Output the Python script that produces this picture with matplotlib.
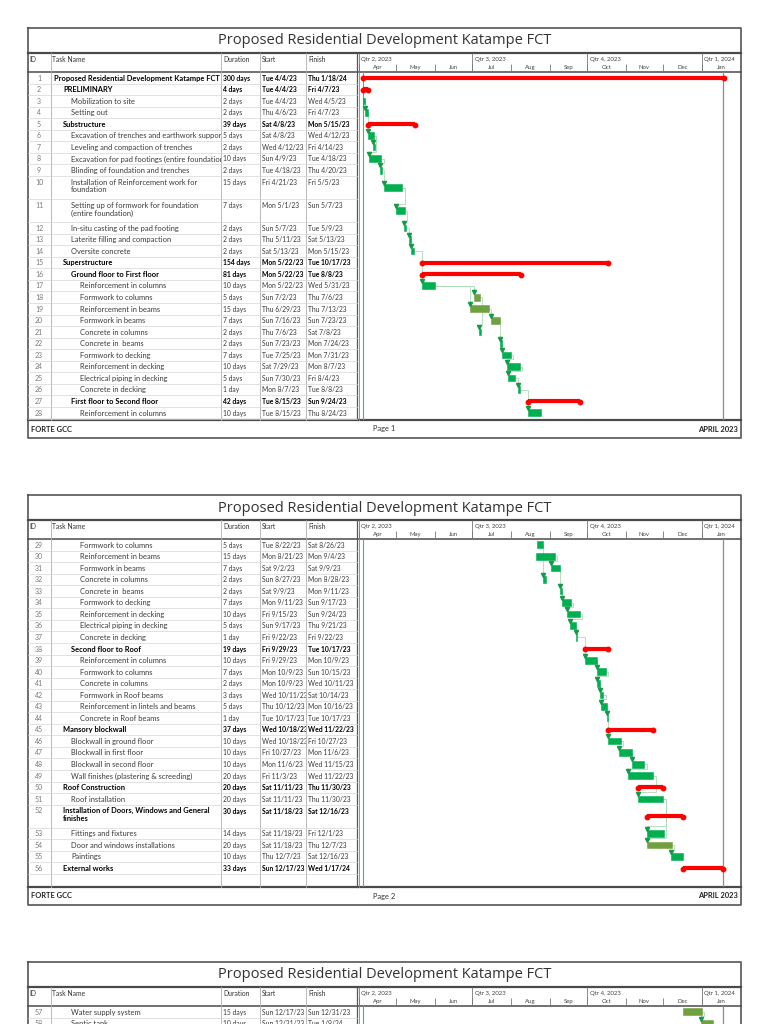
import datetime as dt
import matplotlib
matplotlib.use("Agg")
import matplotlib.pyplot as plt
import matplotlib.dates as mdates
from matplotlib.transforms import Bbox, TransformedBbox

plt.rcParams['font.family'] = ['Lato', 'DejaVu Sans']

title = "Proposed Residential Development Katampe FCT"

task_names = [
    "Proposed Residential Development Katampe FCT",
    "PRELIMINARY",
    "Mobilization to site",
    "Setting out",
    "Substructure",
    "Excavation of trenches and earthwork support",
    "Leveling and compaction of trenches",
    "Excavation for pad footings (entire foundation)",
    "Blinding of foundation and trenches",
    "Installation of Reinforcement work for\nfoundation",
    "Setting up of formwork for foundation\n(entire foundation)",
    "In-situ casting of the pad footing",
    "Laterite filling and compaction",
    "Oversite concrete",
    "Superstructure",
    "Ground floor to First floor",
    "Reinforcement in columns",
    "Formwork to columns",
    "Reinforcement in beams",
    "Formwork in beams",
    "Concrete in columns",
    "Concrete in  beams",
    "Formwork to decking",
    "Reinforcement in decking",
    "Electrical piping in decking",
    "Concrete in decking",
    "First floor to Second floor",
    "Reinforcement in columns",
    "Formwork to columns",
    "Reinforcement in beams",
    "Formwork in beams",
    "Concrete in columns",
    "Concrete in  beams",
    "Formwork to decking",
    "Reinforcement in decking",
    "Electrical piping in decking",
    "Concrete in decking",
    "Second floor to Roof",
    "Reinforcement in columns",
    "Formwork to columns",
    "Concrete in columns",
    "Formwork in Roof beams",
    "Reinforcement in lintels and beams",
    "Concrete in Roof beams",
    "Mansory blockwall",
    "Blockwall in ground floor",
    "Blockwall in first floor",
    "Blockwall in second floor",
    "Wall finishes (plastering & screeding)",
    "Roof Construction",
    "Roof installation",
    "Installation of Doors, Windows and General\nfinishes",
    "Fittings and fixtures",
    "Door and windows installations",
    "Paintings",
    "External works",
    "Water supply system",
    "Septic tank",
]

levels = [0, 1, 2, 2, 1, 2, 2, 2, 2, 2, 2, 2, 2, 2, 1, 2, 3, 3, 3, 3, 3, 3, 3, 3, 3, 3, 2, 3,
          3, 3, 3, 3, 3, 3, 3, 3, 3, 2, 3, 3, 3, 3, 3, 3, 1, 2, 2, 2, 2, 1, 2, 1, 2, 2, 2, 1, 2, 2]

durations = ["300 days", "4 days", "2 days", "2 days", "39 days", "5 days", "2 days", "10 days",
             "2 days", "15 days", "7 days", "2 days", "2 days", "2 days", "154 days", "81 days",
             "10 days", "5 days", "15 days", "7 days", "2 days", "2 days", "7 days", "10 days",
             "5 days", "1 day", "42 days", "10 days",
             "5 days", "15 days", "7 days", "2 days", "2 days", "7 days", "10 days", "5 days",
             "1 day", "19 days", "10 days", "7 days", "2 days", "3 days", "5 days", "1 day",
             "37 days", "10 days", "10 days", "10 days", "20 days", "20 days", "20 days",
             "30 days", "14 days", "20 days", "10 days", "33 days", "15 days", "10 days"]

starts = ["Tue 4/4/23", "Tue 4/4/23", "Tue 4/4/23", "Thu 4/6/23", "Sat 4/8/23", "Sat 4/8/23",
          "Wed 4/12/23", "Sun 4/9/23", "Tue 4/18/23", "Fri 4/21/23", "Mon 5/1/23", "Sun 5/7/23",
          "Thu 5/11/23", "Sat 5/13/23", "Mon 5/22/23", "Mon 5/22/23", "Mon 5/22/23", "Sun 7/2/23",
          "Thu 6/29/23", "Sun 7/16/23", "Thu 7/6/23", "Sun 7/23/23", "Tue 7/25/23", "Sat 7/29/23",
          "Sun 7/30/23", "Mon 8/7/23", "Tue 8/15/23", "Tue 8/15/23",
          "Tue 8/22/23", "Mon 8/21/23", "Sat 9/2/23", "Sun 8/27/23", "Sat 9/9/23", "Mon 9/11/23",
          "Fri 9/15/23", "Sun 9/17/23", "Fri 9/22/23", "Fri 9/29/23", "Fri 9/29/23", "Mon 10/9/23",
          "Mon 10/9/23", "Wed 10/11/23", "Thu 10/12/23", "Tue 10/17/23", "Wed 10/18/23",
          "Wed 10/18/23", "Fri 10/27/23", "Mon 11/6/23", "Fri 11/3/23", "Sat 11/11/23",
          "Sat 11/11/23", "Sat 11/18/23", "Sat 11/18/23", "Sat 11/18/23", "Thu 12/7/23",
          "Sun 12/17/23", "Sun 12/17/23", "Sun 12/31/23"]

finishes = ["Thu 1/18/24", "Fri 4/7/23", "Wed 4/5/23", "Fri 4/7/23", "Mon 5/15/23", "Wed 4/12/23",
            "Fri 4/14/23", "Tue 4/18/23", "Thu 4/20/23", "Fri 5/5/23", "Sun 5/7/23", "Tue 5/9/23",
            "Sat 5/13/23", "Mon 5/15/23", "Tue 10/17/23", "Tue 8/8/23", "Wed 5/31/23", "Thu 7/6/23",
            "Thu 7/13/23", "Sun 7/23/23", "Sat 7/8/23", "Mon 7/24/23", "Mon 7/31/23", "Mon 8/7/23",
            "Fri 8/4/23", "Tue 8/8/23", "Sun 9/24/23", "Thu 8/24/23",
            "Sat 8/26/23", "Mon 9/4/23", "Sat 9/9/23", "Mon 8/28/23", "Mon 9/11/23", "Sun 9/17/23",
            "Sun 9/24/23", "Thu 9/21/23", "Fri 9/22/23", "Tue 10/17/23", "Mon 10/9/23",
            "Sun 10/15/23", "Wed 10/11/23", "Sat 10/14/23", "Mon 10/16/23", "Tue 10/17/23",
            "Wed 11/22/23", "Fri 10/27/23", "Mon 11/6/23", "Wed 11/15/23", "Wed 11/22/23",
            "Thu 11/30/23", "Thu 11/30/23", "Sat 12/16/23", "Fri 12/1/23", "Thu 12/7/23",
            "Sat 12/16/23", "Wed 1/17/24", "Sun 12/31/23", "Tue 1/9/24"]

summary_ids = [1, 2, 5, 15, 16, 27, 38, 45, 50, 52, 56]
olive_ids = [18, 19, 20, 54, 57, 58]

# task -> predecessor
predecessors = {4: 3, 6: 4, 7: 6, 8: 6, 9: 8, 10: 9, 11: 10, 12: 11, 13: 12, 14: 13, 17: 14,
                18: 17, 19: 17, 20: 19, 21: 18, 22: 20, 23: 22, 24: 23, 25: 24, 26: 25, 28: 26,
                29: 28, 30: 28, 31: 30, 32: 29, 33: 31, 34: 33, 35: 34, 36: 35, 37: 36, 39: 37,
                40: 39, 41: 40, 42: 41, 43: 42, 44: 43, 46: 44, 47: 46, 48: 47, 49: 48, 51: 49,
                53: 51, 54: 51, 55: 54, 57: 55, 58: 57}

page_first = [1, 29, 57]
page_last = [28, 56, 58]
page_labels = ["Page 1", "Page 2", "Page 3"]
footer_left = "FORTE GCC"
footer_right = "APRIL 2023"

quarters = ["Qtr 2, 2023", "Qtr 3, 2023", "Qtr 4, 2023", "Qtr 1, 2024"]
quarter_starts = ["4/1/23", "7/1/23", "10/1/23", "1/1/24"]
months = ["Apr", "May", "Jun", "Jul", "Aug", "Sep", "Oct", "Nov", "Dec", "Jan"]
month_starts = ["4/1/23", "5/1/23", "6/1/23", "7/1/23", "8/1/23", "9/1/23", "10/1/23",
                "11/1/23", "12/1/23", "1/1/24", "2/1/24"]
col_headers = ["ID", "Task Name", "Duration", "Start", "Finish"]

# ---- layout (pixels) ----
W, H = 768, 1024
page_tops = [28, 495, 962]
RH = 11.55
X0, X1 = 27.5, 741
COLS = [50.5, 221, 259.5, 306, 356.5]
GX0 = 357.5
BH = 0.58
FS = 5.4      # task names
FD = 4.85     # durations / dates
RED = "#ff0000"
GREEN = "#00b050"
OLIVE = "#70a040"
LINK = "#a9dcb6"
ARROW = "#169a48"


def day(s):
    return dt.datetime.strptime(s.split()[-1], "%m/%d/%y")


def dnum(s):
    return mdates.date2num(day(s))


def cell(x, y, s, box, **kw):
    t = base.text(x, y, s, clip_on=True, **kw)
    t.set_clip_box(box)
    return t


fig = plt.figure(figsize=(7.68, 10.24), dpi=100)
base = fig.add_axes([0, 0, 1, 1])
base.set_xlim(0, W)
base.set_ylim(H, 0)
base.axis("off")

xlo = mdates.date2num(dt.datetime(2023, 3, 30, 23))
xhi = mdates.date2num(dt.datetime(2024, 2, 1, 10))

# bar extents
bar_start = {}
bar_end = {}
for i, n in enumerate(task_names):
    tid = i + 1
    bar_start[tid] = dnum(starts[i])
    if tid in summary_ids:
        bar_end[tid] = dnum(finishes[i]) + 1
    else:
        bar_end[tid] = bar_start[tid] + int(durations[i].split()[0])

for p in range(3):
    T = page_tops[p]
    dk = "#4a4a4a"
    base.plot([X0, X1, X1, X0, X0], [T, T, T + 410, T + 410, T], color="#555555", lw=1.2)
    base.plot([X0, X1], [T + 25, T + 25], color=dk, lw=1.6)
    base.plot([X0, X1], [T + 44, T + 44], color=dk, lw=1.1)
    base.plot([X0, X1], [T + 392, T + 392], color=dk, lw=1.6)
    for cx in COLS[:-1]:
        base.plot([cx, cx], [T + 25, T + 392], color="#b0b0b0", lw=0.6)
    base.plot([COLS[-1]] * 2, [T + 25, T + 392], color="#555555", lw=0.9)
    base.plot([GX0 + 1.6] * 2, [T + 44, T + 392], color="#888888", lw=0.6)

    base.text((X0 + X1) / 2, T + 13, title, ha="center", va="center", fontsize=10.5,
              color="#333333", family=["Open Sans", "DejaVu Sans"])
    for lab, hx_ in zip(col_headers, [29, 52, 223, 262, 308]):
        base.text(hx_, T + 28, lab, ha="left", va="top", fontsize=4.9, color="#333333")

    if T + 405 < H:
        base.text(31, T + 401, footer_left, ha="left", va="center", fontsize=5.4,
                  fontweight="bold", color="#222222")
        base.text((X0 + X1) / 2, T + 401, page_labels[p], ha="center", va="center",
                  fontsize=5.4, color="#333333")
        base.text(738, T + 401, footer_right, ha="right", va="center", fontsize=5.4,
                  fontweight="bold", color="#222222")

    # timescale header
    hx = fig.add_axes([GX0 / W, 1 - (T + 44) / H, (X1 - GX0) / W, 19 / H])
    hx.set_xlim(xlo, xhi)
    hx.set_ylim(0, 1)
    hx.axis("off")
    for q, qs in zip(quarters, quarter_starts):
        hx.vlines(dnum(qs), 0, 1, color="#777777", lw=0.6)
        hx.text(dnum(qs) + 2, 0.68, q, ha="left", va="center", fontsize=4.3, color="#444444")
    for k, m in enumerate(months):
        hx.vlines(dnum(month_starts[k]), 0, 0.42, color="#777777", lw=0.6)
        mid = (dnum(month_starts[k]) + dnum(month_starts[k + 1])) / 2
        hx.text(mid, 0.22, m, ha="center", va="center", fontsize=4.3, color="#444444")

    # gantt body
    gx = fig.add_axes([GX0 / W, 1 - (T + 392) / H, (X1 - GX0) / W, 348 / H])
    gx.set_xlim(xlo, xhi)
    gx.set_ylim(348 / RH, 0)
    gx.axis("off")
    gx.axvline(dnum(starts[0]), color="#4cb866", lw=0.8)
    gx.axvline(dnum(finishes[0]), color="#8c8c8c", lw=0.9)

    # column clip boxes (smaller data y first so the display box has positive height)
    clip = {}
    edges = [X0, COLS[0], COLS[1], COLS[2], COLS[3], COLS[4]]
    for c in range(5):
        clip[c] = TransformedBbox(Bbox([[edges[c] + 0.5, T + 44],
                                        [edges[c + 1] - 0.5, min(T + 392, H)]]),
                                  base.transData)

    ypos = {}
    cum = 0.0
    for tid in range(page_first[p], page_last[p] + 1):
        i = tid - 1
        units = 1 + task_names[i].count("\n")
        top_px = T + 44 + cum * RH
        yc = cum + units / 2
        ypos[tid] = yc
        is_sum = tid in summary_ids
        wt = "bold" if is_sum else "normal"
        col = "#000000" if is_sum else "#3a3a3a"
        if units == 1:
            ty, va = top_px + RH / 2 + 0.3, "center"
        else:
            ty, va = top_px + 2.6, "top"
        cell(39, ty, str(tid), clip[0], ha="center", va=va, fontsize=5.0, color="#7a7a7a")
        cell(54.5 + 8.4 * levels[i], ty, task_names[i], clip[1], ha="left", va=va,
             fontsize=FS, fontweight=wt, color=col, linespacing=1.15)
        dy = 0.4 if va == "top" else 0
        cell(223, ty + dy, durations[i], clip[2], ha="left", va=va, fontsize=FD,
             fontweight=wt, color=col)
        cell(261.5, ty + dy, starts[i], clip[3], ha="left", va=va, fontsize=FD,
             fontweight=wt, color=col)
        cell(308, ty + dy, finishes[i], clip[4], ha="left", va=va, fontsize=FD,
             fontweight=wt, color=col)
        base.plot([X0, COLS[-1]], [top_px + units * RH] * 2, color="#d6d6d6", lw=0.5)
        cum += units

        s, e = bar_start[tid], bar_end[tid]
        if is_sum:
            gx.plot([s, e], [yc, yc], color=RED, lw=3.0, solid_capstyle="butt", zorder=4)
            gx.plot([s, e], [yc + 0.05, yc + 0.05], "o", ms=3.2, color=RED, zorder=4)
        else:
            fc = OLIVE if tid in olive_ids else GREEN
            gx.barh(yc, e - s, left=s, height=BH, color=fc, edgecolor=fc, lw=0.4, zorder=4)

    # links between tasks on the same page
    for tid, pr in predecessors.items():
        if tid not in ypos or pr not in ypos:
            continue
        xe, yp = bar_end[pr], ypos[pr]
        xs, ys = bar_start[tid], ypos[tid]
        top = ys - BH / 2 - 0.12
        if xs >= xe:
            xx, yy = [xe, xs, xs], [yp, yp, top]
        else:
            mid = ys - BH / 2 - 0.32
            xx, yy = [xe, xe + 2, xe + 2, xs, xs], [yp, yp, mid, mid, top]
        gx.plot(xx, yy, color=LINK, lw=0.6, zorder=3)
        gx.plot([xs], [top], marker="v", ms=3.0, color=ARROW, zorder=5, lw=0)

fig.savefig("out.png", dpi=100)
